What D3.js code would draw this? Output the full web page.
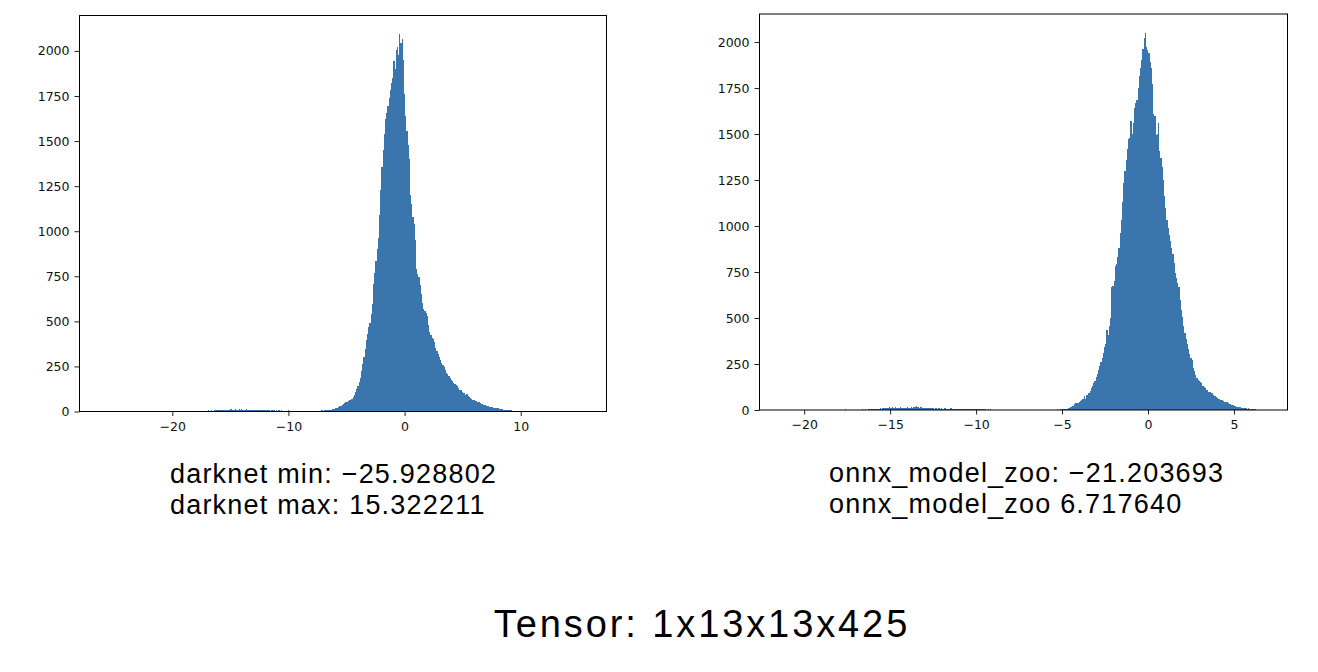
<html>
  <head>
    <meta charset="utf-8">
    <style>
      body { margin: 0; background: #fff; }
      .tick text { font-family: "DejaVu Sans", sans-serif; font-size: 12.5px; fill: #111; }
      .tick line { stroke: #222; }
      .caption { font-family: "Liberation Sans", Arial, sans-serif; fill: #000; }
    </style>
  </head>
  <body>
    <script src="https://cdn.jsdelivr.net/npm/d3@7"></script>
    <script>
    // values (400 bins each, min..max of the tensor)
    var darknetMin = -25.928802, darknetMax = 15.322211;
    var zooMin = -21.203693, zooMax = 6.717640;

    var darknetCounts = [
      1,0,0,0,0,0,0,0,0,0, 0,0,0,0,0,0,0,0,0,0, 0,0,0,0,0,0,0,0,0,0, 1,0,0,0,0,0,0,0,0,
      3,0,0,1,0,0,1,0,0,0, 1,0,0,1,0,0,1,0,1,0, 0,1,0,1,0,
      3,1,0,1,2,1,0,2,4,1, 2,1,3,2,1,3,2,4,2,3, 5,3,
      4,6,5,3,7,5,6,8,6,7, 9,6,8,10,7,9,8,11,9,10, 12,9,11,10,14,11,9,12,10,13,
      11,8,10,12,9,11,10,8,9,11, 8,10,7,9,8,10,7,6,9,7, 8,6,7,5,8,6,7,5,6,4,
      6,5,7,4,5,3,5,4,6,3,
      2,3,1,2,3,2,1,3,2,2, 3,2,4,3,2,3,4,3,2,4, 3,5,4,3,5,4,6,5,6,7, 6,8,7,9,
      10,12,14,17,19,22,26,29,33,38,
      44,47,52,55,60,63,66,72,80,92,
      108,125,140,162,188,225,262,300,345,395,
      432,468,492,540,598,705,770,835,900,965,
      1090,1230,1355,1450,1540,1620,1655,1695,1740,1785,
      1820,1850,1945,1900,2005,2020,1975,2092,2045,2065,
      1950,1760,1640,1555,1480,1400,1200,1150,1080,1040,
      950,790,765,745,700,650,600,570,560,545,
      530,480,440,425,410,402,385,350,335,318,
      300,285,270,258,248,232,215,208,195,185,
      175,168,158,150,146,140,128,122,118,108,
      104,100,92,95,85,80,74,70,66,62,
      60,58,52,50,45,42,40,36,34,32,
      30,28,27,24,25,22,21,20,18,17,
      15,14,12,12,10,9,9,8,7,6,
      6,5,5,4,4,3,4,3,2,2,
      2,1,1,2,1,0,1,1,0,1,
      1,0,0,1,0,0,0,0,1,0,
      0,0,1,0,0,0,0,0,0,0,
      0,0,0,0,1,0,0,0,0,0,
      0,0,0,0,0,0,0,0,0,1
    ];

    var zooCounts = [
      1,0,0,0,0,0,0,0,0,0, 0,0,0,0,0,0,0,0,0,0, 0,0,0,0,0,0,0,0,0,0, 0,0,0,0,0,0,0,
      1,2,0,1,0,0,2,0,1,0, 1,2,0,1,3,0,1,2,1,0, 1,2,1,0,2,
      1,2,1,3,2,1,3,2,4,3,5,
      5,4,6,7,5,8,6,9,8,10,
      9,11,10,13,12,14,11,15,13,12,
      14,12,13,11,14,12,10,13,11,12,
      14,12,13,15,12,16,14,20,17,14,
      13,15,12,11,13,10,12,11,9,10,
      11,9,8,10,9,8,10,7,9,8,
      7,9,8,6,8,7,9,6,7,8,
      6,7,5,8,6,7,5,6,8,5,
      6,5,7,4,6,5,4,6,5,4,
      5,3,4,5,3,4,2,3,2,3,
      0,0,0,0,0,0,0,0,0,0, 0,0,0,0,0,0,0,0,0,0, 0,0,0,0,0,0,0,0,0,0,
      0,0,0,0,0,0,0,0,0,0, 0,0,0,0,0,0,0,0,0,0, 0,0,
      1,2,1,3,2,
      4,3,5,6,5,8,7,10,12,15,
      20,24,30,36,40,38,44,50,52,58,
      76,62,80,84,92,105,118,130,145,160,
      178,195,220,240,262,285,310,340,360,435,
      410,455,500,670,675,700,785,795,830,880,
      960,1035,1130,1235,1300,1360,1420,1475,1480,1570,
      1500,1560,1640,1670,1685,1750,1815,1860,1900,1960,
      2020,2050,1975,1955,1938,1890,1860,1770,1610,1600,
      1495,1500,1560,1410,1370,1320,1250,1165,1100,1035,
      990,950,920,880,850,800,745,715,690,670,
      600,545,505,455,420,385,360,330,305,285,
      270,230,210,190,172,165,158,152,145,132,
      125,118,110,106,100,96,92,90,82,75,
      68,63,60,58,56,54,50,46,44,41,
      38,35,31,28,26,24,21,19,17,15,
      14,13,12,10,11,9,8,9,7,6,
      5,4,3,3,2,1,1,0,1,1
    ];

    var darknetTicks = [-20, -10, 0, 10];
    var zooTicks = [-20, -15, -10, -5, 0, 5];
    var countTicks = [0, 250, 500, 750, 1000, 1250, 1500, 1750, 2000];

    var darknetLines = ["darknet min: \u221225.928802", "darknet max: 15.322211"];
    var zooLines = ["onnx_model_zoo: \u221221.203693", "onnx_model_zoo 6.717640"];
    var title = "Tensor: 1x13x13x425";

    var width = 1318, height = 672;
    var barColor = "#3a76ad";

    var svg = d3.select("body")
        .append("svg")
        .attr("width", width)
        .attr("height", height);

    function drawHist(counts, lo, hi, ticks, box) {
      var step = (hi - lo) / counts.length;
      var pad = (hi - lo) * 0.05;
      var x = d3.scaleLinear().domain([lo - pad, hi + pad]).range([box.left, box.right]);
      var y = d3.scaleLinear().domain([0, d3.max(counts) * 1.05]).range([box.bottom, box.top]);

      var g = svg.append("g");

      g.append("g")
          .attr("shape-rendering", "crispEdges")
        .selectAll("rect")
        .data(counts)
        .enter().append("rect")
          .attr("x", function(d, i) { return x(lo + i * step); })
          .attr("width", function(d, i) { return x(lo + (i + 1) * step) - x(lo + i * step); })
          .attr("y", function(d) { return y(d); })
          .attr("height", function(d) { return y(0) - y(d); })
          .attr("fill", barColor);

      var xa = g.append("g")
          .attr("transform", "translate(0," + box.bottom + ")")
          .call(d3.axisBottom(x).tickValues(ticks).tickSize(4.5).tickPadding(6).tickFormat(d3.format("d")));
      xa.select(".domain").remove();

      var ya = g.append("g")
          .attr("transform", "translate(" + box.left + ",0)")
          .call(d3.axisLeft(y).tickValues(countTicks).tickSize(5).tickPadding(5).tickFormat(d3.format("d")));
      ya.select(".domain").remove();

      g.append("rect")
          .attr("x", box.left)
          .attr("y", box.top)
          .attr("width", box.right - box.left)
          .attr("height", box.bottom - box.top)
          .attr("fill", "none")
          .attr("stroke", "#000")
          .attr("stroke-width", 1);
    }

    drawHist(darknetCounts, darknetMin, darknetMax, darknetTicks,
      { left: 79.5, right: 606.5, top: 15.5, bottom: 411.5 });
    drawHist(zooCounts, zooMin, zooMax, zooTicks,
      { left: 759.5, right: 1287.5, top: 14, bottom: 410 });

    function caption(lines, x, y0) {
      svg.append("g").selectAll("text")
        .data(lines)
        .enter().append("text")
          .attr("class", "caption")
          .attr("x", x)
          .attr("y", function(d, i) { return y0 + i * 31; })
          .attr("font-size", 27)
          .attr("letter-spacing", 1.2)
          .text(function(d) { return d; });
    }

    caption(darknetLines, 170, 483);
    caption(zooLines, 829, 482);

    svg.append("text")
        .attr("class", "caption")
        .attr("x", 702)
        .attr("y", 637)
        .attr("text-anchor", "middle")
        .attr("font-size", 38)
        .attr("letter-spacing", 2.9)
        .text(title);
    </script>
  </body>
</html>
